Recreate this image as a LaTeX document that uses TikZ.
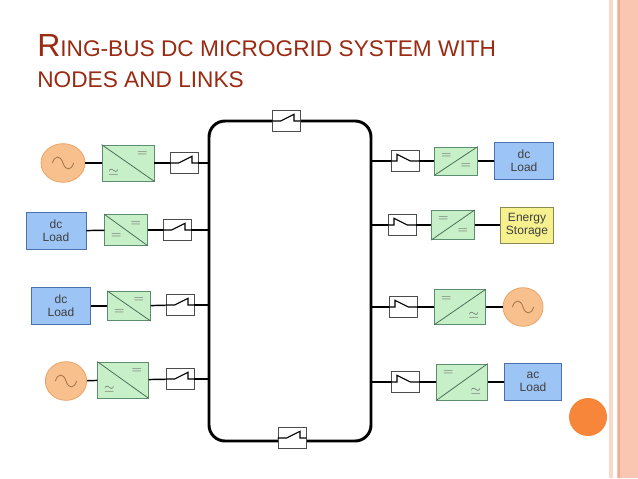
\documentclass[tikz,border=0pt]{standalone}
\usepackage{fontspec}
\setmainfont{Liberation Sans}
\usetikzlibrary{positioning,shapes.geometric}
\definecolor{titlered}{HTML}{9A2A12}
\definecolor{convfill}{HTML}{C8F0C8}
\definecolor{convline}{HTML}{5E8C6E}
\definecolor{loadfill}{HTML}{9CC4F4}
\definecolor{loadline}{HTML}{4A70B0}
\definecolor{storfill}{HTML}{F6F08E}
\definecolor{storline}{HTML}{8A8A50}
\definecolor{srcfill}{HTML}{F8C08C}
\definecolor{srcline}{HTML}{E8A468}
\definecolor{stripe}{HTML}{FAC6B2}
\definecolor{stripedark}{HTML}{F2AA90}
\definecolor{dotorange}{HTML}{F7863A}

\tikzset{
  wire/.style={line width=1.1pt},
  sw/.style={draw=black!70, fill=white, minimum width=21pt, minimum height=16pt, inner sep=0pt, line width=0.6pt},
  conv/.style={draw=convline, fill=convfill, inner sep=0pt, line width=0.6pt},
  load/.style={draw=loadline, fill=loadfill, inner sep=0pt, line width=0.6pt, align=center, font=\fontsize{9}{10}\selectfont, text=black!75},
  stor/.style={load, draw=storline, fill=storfill},
  src/.style={draw=srcline, fill=srcfill, ellipse, inner sep=0pt, line width=0.6pt},
  eqs/.style={font=\fontsize{10}{10}\selectfont, text=black!60, inner sep=0pt},
}
% switch symbols, hook towards the ring side
\newcommand\swL[3]{\node[sw] (#1) at (#2,#3) {};
  \draw[line width=0.8pt] (#1.west) -- ([xshift=-4pt]#1.center) -- ++(10pt,5pt) -- ++(0,-5pt) -- (#1.east);}
\newcommand\swR[3]{\node[sw] (#1) at (#2,#3) {};
  \draw[line width=0.8pt] (#1.west) -- ([xshift=-6pt]#1.center) -- ++(0,5pt) -- ++(10pt,-5pt) -- (#1.east);}
% converters: \convL{name}{x}{y}{w}{h}{lower symbol}
\newcommand\convL[6]{\node[conv, minimum width=#4, minimum height=#5] (#1) at (#2,#3) {};
  \draw[convline!80!black, line width=0.6pt] (#1.north west) -- (#1.south east);
  \node[eqs] at ([xshift=-9pt,yshift=-7pt]#1.north east) {$=$};
  \node[eqs] at ([xshift=9pt,yshift=7pt]#1.south west) {$#6$};}
\newcommand\convR[6]{\node[conv, minimum width=#4, minimum height=#5] (#1) at (#2,#3) {};
  \draw[convline!80!black, line width=0.6pt] (#1.south west) -- (#1.north east);
  \node[eqs] at ([xshift=9pt,yshift=-7pt]#1.north west) {$=$};
  \node[eqs] at ([xshift=-9pt,yshift=7pt]#1.south east) {$#6$};}
\newcommand\wave[1]{\draw[srcline!70!black, line width=0.6pt] ([xshift=-8pt]#1.center)
  .. controls +(2pt,6pt) and +(-2pt,6pt) .. (#1.center)
  .. controls +(2pt,-6pt) and +(-2pt,-6pt) .. ([xshift=8pt]#1.center);}

\begin{document}
\begin{tikzpicture}[x=0.75pt, y=-0.75pt]
  \useasboundingbox (0,0) rectangle (638,478);
  % slide border stripes
  \fill[stripe!70] (609,0) rectangle (613,478);
  \fill[stripe] (617,0) rectangle (638,478);
  \draw[stripedark, line width=0.8pt] (619,0) -- (619,478);
  \fill[dotorange] (588,417) circle (19);

  % title
  \node[anchor=base west, text=titlered, inner sep=0pt] (title1) at (37,56)
    {\fontsize{24}{28}\selectfont R\fontsize{17}{20}\selectfont ING-BUS DC MICROGRID SYSTEM WITH};
  \node[anchor=base west, text=titlered, inner sep=0pt, font=\fontsize{17}{20}\selectfont] (title2) at (37,87)
    {NODES AND LINKS};

  % ring bus
  \draw[line width=2.2pt, rounded corners=12pt] (209,121) rectangle (371,441);
  \coordinate (ringL) at (209,0);
  \coordinate (ringR) at (371,0);
  \swL{swtop}{286}{121}
  \swL{swbot}{292}{438}

  % left feeders
  \node[src, minimum width=33pt, minimum height=29pt] (srcA) at (63,163) {}; \wave{srcA}
  \convL{convA}{128}{163}{39pt}{27pt}{\simeq}
  \swL{swA}{184}{163}
  \node[load, minimum width=45pt, minimum height=28pt] (loadB) at (56,231) {dc\\Load};
  \convL{convB}{126}{230}{32pt}{23pt}{=}
  \swL{swB}{177}{230}
  \node[load, minimum width=44pt, minimum height=28pt] (loadC) at (61,306) {dc\\Load};
  \convL{convC}{129}{306}{32pt}{22pt}{=}
  \swL{swC}{180}{305}
  \node[src, minimum width=31pt, minimum height=29pt] (srcD) at (66,381) {}; \wave{srcD}
  \convL{convD}{123}{380}{38pt}{27pt}{\simeq}
  \swL{swD}{180}{379}
  \foreach \s/\c/\w in {srcA/convA/swA, loadB/convB/swB, loadC/convC/swC, srcD/convD/swD} {
    \draw[wire] (\s) -- (\c);
    \draw[wire] (\c) -- (\w);
    \draw[wire] (\w.east) -- (\w.east -| ringL);
  }

  % right feeders
  \swR{swE}{405}{161}
  \convR{convE}{456}{161}{32pt}{21pt}{=}
  \node[load, minimum width=44pt, minimum height=28pt] (loadE) at (524,161) {dc\\Load};
  \swR{swF}{402}{225}
  \convR{convF}{453}{225}{32pt}{22pt}{=}
  \node[stor, minimum width=40pt, minimum height=27pt] (storF) at (527,225) {Energy\\Storage};
  \swR{swG}{403}{307}
  \convR{convG}{460}{307}{38pt}{26pt}{\simeq}
  \node[src, minimum width=30pt, minimum height=29pt] (srcG) at (523,307) {}; \wave{srcG}
  \swR{swH}{405}{382}
  \convR{convH}{462}{382}{38pt}{27pt}{\simeq}
  \node[load, minimum width=43pt, minimum height=28pt] (loadH) at (533,382) {ac\\Load};
  \foreach \w/\c/\s in {swE/convE/loadE, swF/convF/storF, swG/convG/srcG, swH/convH/loadH} {
    \draw[wire] (\w.west -| ringR) -- (\w.west);
    \draw[wire] (\w) -- (\c);
    \draw[wire] (\c) -- (\s);
  }
\end{tikzpicture}
\end{document}
